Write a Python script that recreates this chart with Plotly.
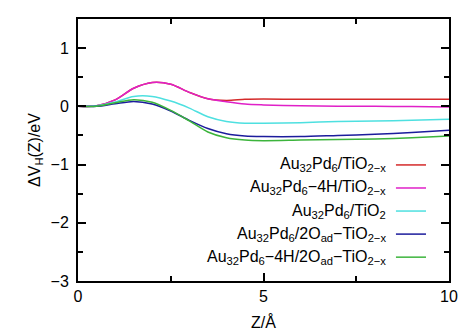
import plotly.graph_objects as go

# Distance from the surface (Å)
z = [0, 0.5, 1.0, 1.5, 2.0, 2.5, 3.0, 3.5, 4.0, 4.5, 5.0, 6.0, 7.0, 8.0, 9.0, 10.0]

# Change of the planar-averaged Hartree potential (eV)
v_au32pd6_tio2x = [0, 0.01, 0.11, 0.31, 0.41, 0.38, 0.24, 0.13, 0.10, 0.12, 0.125, 0.12, 0.12, 0.12, 0.12, 0.12]
v_au32pd6_4h_tio2x = [0, 0.01, 0.11, 0.31, 0.41, 0.38, 0.24, 0.13, 0.08, 0.04, 0.025, 0.01, 0.0, 0.0, -0.005, -0.01]
v_au32pd6_tio2 = [0, 0.01, 0.075, 0.17, 0.17, 0.09, -0.03, -0.18, -0.26, -0.29, -0.29, -0.28, -0.26, -0.25, -0.24, -0.22]
v_au32pd6_2oad = [0, 0.0, 0.045, 0.085, 0.04, -0.08, -0.24, -0.38, -0.47, -0.51, -0.52, -0.52, -0.50, -0.48, -0.45, -0.41]
v_au32pd6_4h_2oad = [0, 0.0, 0.06, 0.115, 0.07, -0.07, -0.25, -0.44, -0.54, -0.58, -0.59, -0.58, -0.57, -0.56, -0.54, -0.51]

names = [
    "Au<sub>32</sub>Pd<sub>6</sub>/TiO<sub>2\u2212x</sub>",
    "Au<sub>32</sub>Pd<sub>6</sub>\u22124H/TiO<sub>2\u2212x</sub>",
    "Au<sub>32</sub>Pd<sub>6</sub>/TiO<sub>2</sub>",
    "Au<sub>32</sub>Pd<sub>6</sub>/2O<sub>ad</sub>\u2212TiO<sub>2\u2212x</sub>",
    "Au<sub>32</sub>Pd<sub>6</sub>\u22124H/2O<sub>ad</sub>\u2212TiO<sub>2\u2212x</sub>",
]
series = [v_au32pd6_tio2x, v_au32pd6_4h_tio2x, v_au32pd6_tio2, v_au32pd6_2oad, v_au32pd6_4h_2oad]
colors = ["#d42a2a", "#e020c8", "#4ee0e0", "#1c1c9c", "#3cb43c"]

FONT = "Liberation Sans, Arial, sans-serif"

fig = go.Figure()
for name, vals, col in zip(names, series, colors):
    fig.add_trace(go.Scatter(x=z, y=vals, mode="lines", name=name,
                             line=dict(color=col, width=1.5, shape="spline", smoothing=0.8),
                             showlegend=False))

# Key drawn inside the plot: label on the left, line sample on the right
key_top = 0.443
key_step = 0.088
for i, (name, col) in enumerate(zip(names, colors)):
    yk = key_top - i * key_step
    fig.add_annotation(x=0.836, y=yk, xref="paper", yref="paper", text=name,
                       showarrow=False, xanchor="right", yanchor="middle",
                       font=dict(family=FONT, size=16, color="black"))
    fig.add_shape(type="line", xref="paper", yref="paper", x0=0.857, x1=0.938, y0=yk, y1=yk,
                  line=dict(color=col, width=1.5))

axis_common = dict(showline=True, linecolor="black", linewidth=2, mirror="allticks",
                   ticks="inside", ticklen=8, tickwidth=2, tickcolor="black",
                   showgrid=False, zeroline=False, automargin=False,
                   tickfont=dict(family=FONT, size=16, color="black"))

fig.update_xaxes(range=[0, 10], tickvals=[0, 5, 10],
                 minor=dict(tickvals=[2.5, 7.5], ticks="inside", ticklen=5, tickwidth=2, tickcolor="black"),
                 title=dict(text="Z/Å", standoff=13, font=dict(family=FONT, size=16, color="black")),
                 **axis_common)
fig.update_yaxes(range=[-3, 1.5], tickvals=[-3, -2, -1, 0, 1], ticktext=["\u22123", "\u22122", "\u22121", "0", "1"],
                 ticklabelstandoff=4,
                 minor=dict(tickvals=[-2.5, -1.5, -0.5, 0.5], ticks="inside", ticklen=5, tickwidth=2, tickcolor="black"),
                 title=dict(text="\u0394V<sub>H</sub>(Z)/eV", standoff=6, font=dict(family=FONT, size=16, color="black")),
                 **axis_common)

fig.update_layout(width=474, height=332, margin=dict(l=78, r=25, t=19, b=51),
                  plot_bgcolor="white", paper_bgcolor="white")

fig.write_html("out.html")
